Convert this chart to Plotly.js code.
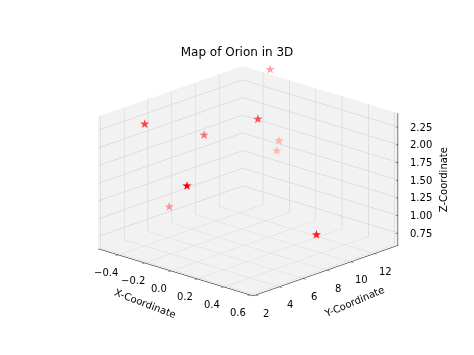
<!DOCTYPE html>
<html>
<head>
<meta charset="utf-8">
<script src="https://cdn.plot.ly/plotly-3.0.1.min.js"></script>
<style>html,body{margin:0;padding:0;background:#fff;}#chart{width:474px;height:355px;}</style>
</head>
<body>
<div id="chart"></div>
<script>
// Orion star coordinates
var xCoords = [-0.41, 0.57, 0.07, 0.00, -0.29, -0.32, -0.50, -0.23, -0.23];
var yCoords = [4.12, 7.71, 2.36, 9.10, 13.35, 8.13, 7.19, 13.25, 13.43];
var zCoords = [2.06, 0.84, 1.56, 2.07, 2.36, 1.72, 0.66, 1.25, 1.38];

var xTicks = [-0.4, -0.2, 0.0, 0.2, 0.4, 0.6];
var yTicks = [2, 4, 6, 8, 10, 12];
var zTicks = [0.75, 1.00, 1.25, 1.50, 1.75, 2.00, 2.25];
var xTickText = ['\u22120.4', '\u22120.2', '0.0', '0.2', '0.4', '0.6'];
var yTickText = ['2', '4', '6', '8', '10', '12'];
var zTickText = ['0.75', '1.00', '1.25', '1.50', '1.75', '2.00', '2.25'];

function pad(arr, f) {
  var mn = Math.min.apply(null, arr), mx = Math.max.apply(null, arr);
  var d = (mx - mn) * f;
  return [mn - d, mx + d];
}
var xr = pad(xCoords, 0.05), yr = pad(yCoords, 0.05), zr = pad(zCoords, 0.05);
// edge positions just inside the ranges (for annotations)
function edge(r, hi) { var e = (r[1] - r[0]) * 1e-4; return hi ? r[1] - e : r[0] + e; }
var X0 = edge(xr, false), X1 = edge(xr, true);
var Y0 = edge(yr, false), Y1 = edge(yr, true);
var Z0 = edge(zr, false), Z1 = edge(zr, true);

var S = 1.27, ZASP = 0.66;
var el = 19 * Math.PI / 180, az = -47 * Math.PI / 180;
var ex = Math.cos(el) * Math.cos(az), ey = Math.cos(el) * Math.sin(az), ez = Math.sin(el);
var depth = xCoords.map(function (x, i) {
  var xn = (x - xr[0]) / (xr[1] - xr[0]);
  var yn = (yCoords[i] - yr[0]) / (yr[1] - yr[0]);
  var zn = (zCoords[i] - zr[0]) / (zr[1] - zr[0]) * ZASP;
  return -(xn * ex + yn * ey + zn * ez);
});
var dmin = Math.min.apply(null, depth), dmax = Math.max.apply(null, depth);
var colors = depth.map(function (d) {
  var a = 1 - 0.7 * (d - dmin) / (dmax - dmin);
  var v = Math.round(255 * (1 - a));
  return 'rgb(255,' + v + ',' + v + ')';
});

var stars = {
  type: 'scatter3d',
  mode: 'text',
  x: xCoords, y: yCoords, z: zCoords,
  text: xCoords.map(function () { return '\u2605'; }),
  textfont: {size: 12, color: colors},
  hoverinfo: 'none'
};

// z axis line + tick marks on the right-hand vertical edge (matplotlib style)
var zx = [], zy = [], zz = [];
zx.push(xr[1], xr[1]); zy.push(yr[1], yr[1]); zz.push(zr[0], zr[1]);
zTicks.forEach(function (t) {
  zx.push(null, xr[1], xr[1]);
  zy.push(null, yr[1] - 0.012 * (yr[1] - yr[0]), yr[1] + 0.025 * (yr[1] - yr[0]));
  zz.push(null, t, t);
});
var zAxisLine = {
  type: 'scatter3d', mode: 'lines',
  x: zx, y: zy, z: zz,
  line: {color: '#000', width: 1},
  hoverinfo: 'none', connectgaps: false
};

var font = {family: 'DejaVu Sans', size: 10, color: '#000'};
var ann = [];
xTicks.forEach(function (t, i) {
  ann.push({x: t, y: Y0, z: Z0, text: xTickText[i], showarrow: false,
            xanchor: 'center', yanchor: 'middle', xshift: -12, yshift: -18, font: font});
});
yTicks.forEach(function (t, i) {
  ann.push({x: X1, y: t, z: Z0, text: yTickText[i], showarrow: false,
            xanchor: 'center', yanchor: 'middle', xshift: 11, yshift: -18, font: font});
});
zTicks.forEach(function (t, i) {
  ann.push({x: X1, y: Y1, z: t, text: zTickText[i], showarrow: false,
            xanchor: 'left', yanchor: 'middle', xshift: 10, yshift: 0, font: font});
});
ann.push({x: (xr[0] + xr[1]) / 2, y: Y0, z: Z0, text: 'X-Coordinate', showarrow: false,
          textangle: 21, xanchor: 'center', yanchor: 'middle', xshift: -30, yshift: -31, font: font});
ann.push({x: X1, y: (yr[0] + yr[1]) / 2, z: Z0, text: 'Y-Coordinate', showarrow: false,
          textangle: -23, xanchor: 'center', yanchor: 'middle', xshift: 29, yshift: -31, font: font});
ann.push({x: X1, y: Y1, z: (zr[0] + zr[1]) / 2, text: 'Z-Coordinate', showarrow: false,
          textangle: -90, xanchor: 'center', yanchor: 'middle', xshift: 46, yshift: 0, font: font});

function axis(range, ticks, showAxis) {
  return {
    title: {text: ''},
    range: range,
    tickvals: ticks,
    showticklabels: false,
    showbackground: true,
    backgroundcolor: '#f2f2f2',
    gridcolor: '#cccccc',
    gridwidth: 1,
    showline: showAxis,
    linecolor: '#000',
    linewidth: 1,
    zeroline: false,
    ticks: showAxis ? 'outside' : '',
    tickcolor: '#000',
    ticklen: 4,
    showspikes: false
  };
}

var R = 2.2;
var layout = {
  width: 474, height: 355,
  margin: {l: 0, r: 0, t: 0, b: 0},
  paper_bgcolor: '#fff',
  showlegend: false,
  title: {text: 'Map of Orion in 3D', font: {family: 'DejaVu Sans', size: 12, color: '#000'},
          x: 0.5, xanchor: 'center', y: 1 - 52 / 355, yanchor: 'middle', yref: 'container'},
  scene: {
    domain: {x: [0.046, 1.0], y: [0.02, 0.96]},
    aspectmode: 'manual',
    aspectratio: {x: S, y: S, z: S * ZASP},
    camera: {
      eye: {x: R * ex, y: R * ey, z: R * ez},
      center: {x: 0, y: 0, z: 0},
      up: {x: 0, y: 0, z: 1},
      projection: {type: 'orthographic'}
    },
    xaxis: axis(xr, xTicks, true),
    yaxis: axis(yr, yTicks, true),
    zaxis: axis(zr, zTicks, false),
    annotations: ann
  }
};

Plotly.newPlot('chart', [stars, zAxisLine], layout, {displayModeBar: false});
</script>
</body>
</html>
